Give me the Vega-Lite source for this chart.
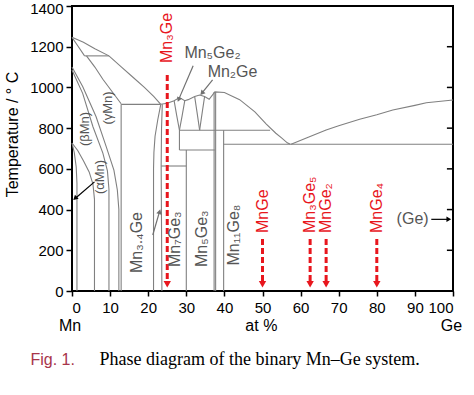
{
  "$schema": "https://vega.github.io/schema/vega-lite/v6.json",
  "width": 381,
  "height": 285,
  "autosize": {"type": "none"},
  "padding": {"left": 72, "top": 6, "right": 21, "bottom": 104},
  "background": "white",
  "config": {
    "view": {"stroke": "black", "strokeWidth": 2},
    "axis": {"grid": false, "domain": false, "tickColor": "black", "tickWidth": 1.5, "labelFont": "Liberation Sans", "labelFontSize": 15, "labelColor": "black", "labelOverlap": false, "titleFont": "Liberation Sans", "titleColor": "black", "titleFontWeight": "normal"}
  },
  "resolve": {"axis": {"x": "independent", "y": "independent"}},
  "datasets": {
    "lines": [
      {"id":"L1","o":0,"x":0,"T":1246},{"id":"L1","o":1,"x":3,"T":1222},{"id":"L1","o":2,"x":6,"T":1190},{"id":"L1","o":3,"x":9.7,"T":1155},{"id":"L1","o":4,"x":13,"T":1100},{"id":"L1","o":5,"x":16,"T":1050},{"id":"L1","o":6,"x":19,"T":1000},{"id":"L1","o":7,"x":21.5,"T":955},{"id":"L1","o":8,"x":23.3,"T":917},
      {"id":"L2","o":0,"x":0,"T":1246},{"id":"L2","o":1,"x":1.5,"T":1205},{"id":"L2","o":2,"x":3.3,"T":1155},
      {"id":"L3","o":0,"x":3.3,"T":1155},{"id":"L3","o":1,"x":9.7,"T":1155},
      {"id":"L4","o":0,"x":3.8,"T":1155},{"id":"L4","o":1,"x":6,"T":1100},{"id":"L4","o":2,"x":8.1,"T":1040},{"id":"L4","o":3,"x":10.5,"T":980},{"id":"L4","o":4,"x":12.9,"T":920},
      {"id":"L5","o":0,"x":12.9,"T":917},{"id":"L5","o":1,"x":23.3,"T":917},
      {"id":"L6","o":0,"x":12.9,"T":917},{"id":"L6","o":1,"x":12.9,"T":0},
      {"id":"A","o":0,"x":0,"T":1100},{"id":"A","o":1,"x":2.8,"T":1005},{"id":"A","o":2,"x":6.3,"T":857},{"id":"A","o":3,"x":9,"T":708},{"id":"A","o":4,"x":11,"T":594},{"id":"A","o":5,"x":11.9,"T":496},{"id":"A","o":6,"x":12.3,"T":400},{"id":"A","o":7,"x":12.3,"T":0},
      {"id":"B","o":0,"x":0,"T":1086},{"id":"B","o":1,"x":2.8,"T":971},{"id":"B","o":2,"x":5.5,"T":807},{"id":"B","o":3,"x":8.1,"T":677},{"id":"B","o":4,"x":9.3,"T":590},{"id":"B","o":5,"x":9.7,"T":500},{"id":"B","o":6,"x":9.7,"T":0},
      {"id":"C","o":0,"x":0,"T":727},{"id":"C","o":1,"x":1.5,"T":690},{"id":"C","o":2,"x":3,"T":640},{"id":"C","o":3,"x":4.5,"T":585},{"id":"C","o":4,"x":5.5,"T":525},{"id":"C","o":5,"x":5.9,"T":450},{"id":"C","o":6,"x":5.9,"T":0},
      {"id":"D","o":0,"x":0,"T":727},{"id":"D","o":1,"x":0.6,"T":680},{"id":"D","o":2,"x":1.1,"T":610},{"id":"D","o":3,"x":1.3,"T":530},{"id":"D","o":4,"x":1.3,"T":0},
      {"id":"E","o":0,"x":23.3,"T":917},{"id":"E","o":1,"x":22.5,"T":840},{"id":"E","o":2,"x":21.8,"T":760},{"id":"E","o":3,"x":21.5,"T":680},{"id":"E","o":4,"x":21.4,"T":600},{"id":"E","o":5,"x":21.4,"T":0},
      {"id":"F","o":0,"x":23.7,"T":917},{"id":"F","o":1,"x":23.5,"T":800},{"id":"F","o":2,"x":23.4,"T":614},{"id":"F","o":3,"x":23.6,"T":0},
      {"id":"G","o":0,"x":23.4,"T":614},{"id":"G","o":1,"x":30,"T":614},
      {"id":"H","o":0,"x":30,"T":693},{"id":"H","o":1,"x":30,"T":0},
      {"id":"I","o":0,"x":28.2,"T":693},{"id":"I","o":1,"x":37.5,"T":693},
      {"id":"J","o":0,"x":28.2,"T":790},{"id":"J","o":1,"x":52,"T":790},
      {"id":"K1","o":0,"x":26.8,"T":935},{"id":"K1","o":1,"x":27.5,"T":860},{"id":"K1","o":2,"x":28.2,"T":790},{"id":"K1","o":3,"x":28.2,"T":693},
      {"id":"K2","o":0,"x":29.6,"T":935},{"id":"K2","o":1,"x":28.9,"T":860},{"id":"K2","o":2,"x":28.2,"T":790},
      {"id":"M1","o":0,"x":32.2,"T":955},{"id":"M1","o":1,"x":32.8,"T":880},{"id":"M1","o":2,"x":33.5,"T":790},
      {"id":"M2","o":0,"x":34.8,"T":955},{"id":"M2","o":1,"x":34.2,"T":880},{"id":"M2","o":2,"x":33.5,"T":790},
      {"id":"N","o":0,"x":23.3,"T":917},{"id":"N","o":1,"x":25,"T":922},{"id":"N","o":2,"x":26.8,"T":935},{"id":"N","o":3,"x":28.2,"T":950},{"id":"N","o":4,"x":29.6,"T":935},{"id":"N","o":5,"x":30.5,"T":940},{"id":"N","o":6,"x":32.2,"T":955},{"id":"N","o":7,"x":33.5,"T":963},{"id":"N","o":8,"x":34.8,"T":955},{"id":"N","o":9,"x":36,"T":942},{"id":"N","o":10,"x":37.5,"T":978},{"id":"N","o":11,"x":40,"T":975},{"id":"N","o":12,"x":44,"T":940},{"id":"N","o":13,"x":48,"T":880},{"id":"N","o":14,"x":51,"T":820},{"id":"N","o":15,"x":53.5,"T":775},{"id":"N","o":16,"x":55,"T":752},{"id":"N","o":17,"x":56.5,"T":728},{"id":"N","o":18,"x":57.3,"T":721},
      {"id":"P","o":0,"x":57.5,"T":721},{"id":"P","o":1,"x":62,"T":755},{"id":"P","o":2,"x":66.7,"T":791},{"id":"P","o":3,"x":70,"T":812},{"id":"P","o":4,"x":75.5,"T":844},{"id":"P","o":5,"x":80,"T":866},{"id":"P","o":6,"x":84.2,"T":889},{"id":"P","o":7,"x":90,"T":912},{"id":"P","o":8,"x":93,"T":925},{"id":"P","o":9,"x":100,"T":938},
      {"id":"Q","o":0,"x":39.8,"T":721},{"id":"Q","o":1,"x":100,"T":721},
      {"id":"R1","o":0,"x":37.3,"T":978},{"id":"R1","o":1,"x":37.3,"T":0},
      {"id":"R2","o":0,"x":37.7,"T":978},{"id":"R2","o":1,"x":37.7,"T":0},
      {"id":"S","o":0,"x":39.8,"T":790},{"id":"S","o":1,"x":39.8,"T":0}
    ],
    "compounds": [
      {"name":"Mn₃Ge","x":25,"top":1061,"lab":1120},
      {"name":"MnGe","x":50,"top":255,"lab":285},
      {"name":"Mn₃Ge₅","x":62.5,"top":255,"lab":285},
      {"name":"MnGe₂","x":66.7,"top":255,"lab":285},
      {"name":"MnGe₄","x":80,"top":255,"lab":285}
    ],
    "phases": [
      {"name":"Mn₃.₄Ge","x":17.0,"T":88},
      {"name":"Mn₇Ge₃","x":27.1,"T":118},
      {"name":"Mn₅Ge₃","x":34.0,"T":118},
      {"name":"Mn₁₁Ge₈","x":42.6,"T":125}
    ],
    "hlabels": [
      {"name":"Mn₅Ge₂","x":29.5,"T":1168},
      {"name":"Mn₂Ge","x":35.6,"T":1078},
      {"name":"(Ge)","x":85.2,"T":352}
    ],
    "sol": [
      {"name":"(γMn)","x":9.4,"T":899},
      {"name":"(βMn)","x":3.3,"T":796},
      {"name":"(αMn)","x":7.4,"T":560}
    ],
    "arrows": [
      {"k":"g","x":21.2,"T":275,"x2":22.9,"T2":385},
      {"k":"b","x":5.9,"T":536,"x2":0.9,"T2":456},
      {"k":"g","x":31.8,"T":1106,"x2":28.1,"T2":945},
      {"k":"g","x":36.9,"T":1037,"x2":34.2,"T2":975},
      {"k":"b","x":94.3,"T":352,"x2":98.6,"T2":352}
    ],
    "heads": [
      {"k":"g","x":23.0,"T":390,"dir":16},
      {"k":"b","x":0.8,"T":455,"dir":228},
      {"k":"g","x":28.0,"T":940,"dir":203},
      {"k":"g","x":34.1,"T":972,"dir":221},
      {"k":"b","x":98.9,"T":352,"dir":90}
    ],
    "rticks": [{"T":200},{"T":400},{"T":600},{"T":800},{"T":1000},{"T":1200}],
    "bottom": [
      {"name":"Mn","x":-0.5,"T":-172},
      {"name":"at %","x":49.7,"T":-172},
      {"name":"Ge","x":99.6,"T":-172}
    ]
  },
  "layer": [
    {
      "data": {"name": "lines"},
      "mark": {"type": "line", "color": "#808080", "strokeWidth": 1.1},
      "encoding": {
        "x": {"field": "x", "type": "quantitative", "scale": {"domain": [0, 100]}, "axis": {"orient": "bottom", "values": [0,10,20,30,40,50,60,70,80,90,100], "tickSize": 5, "labelPadding": 4, "title": null}},
        "y": {"field": "T", "type": "quantitative", "scale": {"domain": [0, 1400]}, "axis": {"orient": "left", "values": [0,200,400,600,800,1000,1200,1400], "format": "d", "tickSize": 6, "labelPadding": 3, "labelOffset": {"condition": {"test": "datum.value == 1400", "value": 2}, "value": 0}, "title": "Temperature / ° C", "titleFontSize": 16, "titleAngle": 270, "titleX": -60, "titleY": 128, "titleAlign": "center", "titleBaseline": "middle"}},
        "detail": {"field": "id"},
        "order": {"field": "o", "type": "quantitative"}
      }
    },
    {
      "data": {"name": "rticks"},
      "mark": {"type": "rule", "color": "black", "strokeWidth": 1.5},
      "encoding": {
        "x": {"datum": 98.4, "type": "quantitative", "axis": null},
        "x2": {"datum": 100},
        "y": {"field": "T", "type": "quantitative", "axis": null}
      }
    },
    {
      "data": {"name": "compounds"},
      "mark": {"type": "rule", "color": "#e8161d", "strokeWidth": 3, "strokeDash": [6, 3]},
      "encoding": {
        "x": {"field": "x", "type": "quantitative", "axis": null},
        "y": {"field": "top", "type": "quantitative", "axis": null},
        "y2": {"datum": 45}
      }
    },
    {
      "data": {"name": "compounds"},
      "mark": {"type": "point", "shape": "triangle-down", "filled": true, "color": "#e8161d", "opacity": 1, "size": 55},
      "encoding": {
        "x": {"field": "x", "type": "quantitative", "axis": null},
        "y": {"datum": 33, "type": "quantitative", "axis": null}
      }
    },
    {
      "data": {"name": "compounds"},
      "mark": {"type": "text", "angle": 270, "align": "left", "baseline": "middle", "font": "Liberation Sans", "fontSize": 16, "color": "#e8161d"},
      "encoding": {
        "x": {"field": "x", "type": "quantitative", "axis": null},
        "y": {"field": "lab", "type": "quantitative", "axis": null},
        "text": {"field": "name"}
      }
    },
    {
      "data": {"name": "phases"},
      "mark": {"type": "text", "angle": 270, "align": "left", "baseline": "middle", "font": "Liberation Sans", "fontSize": 16, "color": "#555555"},
      "encoding": {
        "x": {"field": "x", "type": "quantitative", "axis": null},
        "y": {"field": "T", "type": "quantitative", "axis": null},
        "text": {"field": "name"}
      }
    },
    {
      "data": {"name": "hlabels"},
      "mark": {"type": "text", "align": "left", "baseline": "middle", "font": "Liberation Sans", "fontSize": 16, "color": "#555555"},
      "encoding": {
        "x": {"field": "x", "type": "quantitative", "axis": null},
        "y": {"field": "T", "type": "quantitative", "axis": null},
        "text": {"field": "name"}
      }
    },
    {
      "data": {"name": "sol"},
      "mark": {"type": "text", "angle": 270, "align": "center", "baseline": "middle", "font": "Liberation Sans", "fontSize": 13, "color": "#555555"},
      "encoding": {
        "x": {"field": "x", "type": "quantitative", "axis": null},
        "y": {"field": "T", "type": "quantitative", "axis": null},
        "text": {"field": "name"}
      }
    },
    {
      "data": {"name": "arrows"},
      "mark": {"type": "rule", "strokeWidth": 1.2},
      "encoding": {
        "x": {"field": "x", "type": "quantitative", "axis": null},
        "y": {"field": "T", "type": "quantitative", "axis": null},
        "x2": {"field": "x2"},
        "y2": {"field": "T2"},
        "color": {"field": "k", "type": "nominal", "scale": {"domain": ["g", "b"], "range": ["#707070", "#000000"]}, "legend": null}
      }
    },
    {
      "data": {"name": "heads"},
      "mark": {"type": "point", "shape": "triangle-up", "filled": true, "opacity": 1, "size": 30},
      "encoding": {
        "x": {"field": "x", "type": "quantitative", "axis": null},
        "y": {"field": "T", "type": "quantitative", "axis": null},
        "angle": {"field": "dir", "type": "quantitative", "scale": null},
        "color": {"field": "k", "type": "nominal", "scale": {"domain": ["g", "b"], "range": ["#707070", "#000000"]}, "legend": null}
      }
    },
    {
      "data": {"name": "bottom"},
      "mark": {"type": "text", "align": "center", "baseline": "middle", "font": "Liberation Sans", "fontSize": 16, "color": "black"},
      "encoding": {
        "x": {"field": "x", "type": "quantitative", "axis": null},
        "y": {"field": "T", "type": "quantitative", "axis": null},
        "text": {"field": "name"}
      }
    },
    {
      "data": {"values": [{"name": "Fig. 1.", "x": -10.9, "T": -339}]},
      "mark": {"type": "text", "align": "left", "baseline": "middle", "font": "Liberation Sans", "fontSize": 16, "color": "#a8354a"},
      "encoding": {
        "x": {"field": "x", "type": "quantitative", "axis": null},
        "y": {"field": "T", "type": "quantitative", "axis": null},
        "text": {"field": "name"}
      }
    },
    {
      "data": {"values": [{"name": "Phase diagram of the binary Mn–Ge system.", "x": 7.2, "T": -339}]},
      "mark": {"type": "text", "align": "left", "baseline": "middle", "font": "Liberation Serif", "fontSize": 18, "color": "black"},
      "encoding": {
        "x": {"field": "x", "type": "quantitative", "axis": null},
        "y": {"field": "T", "type": "quantitative", "axis": null},
        "text": {"field": "name"}
      }
    }
  ]
}
